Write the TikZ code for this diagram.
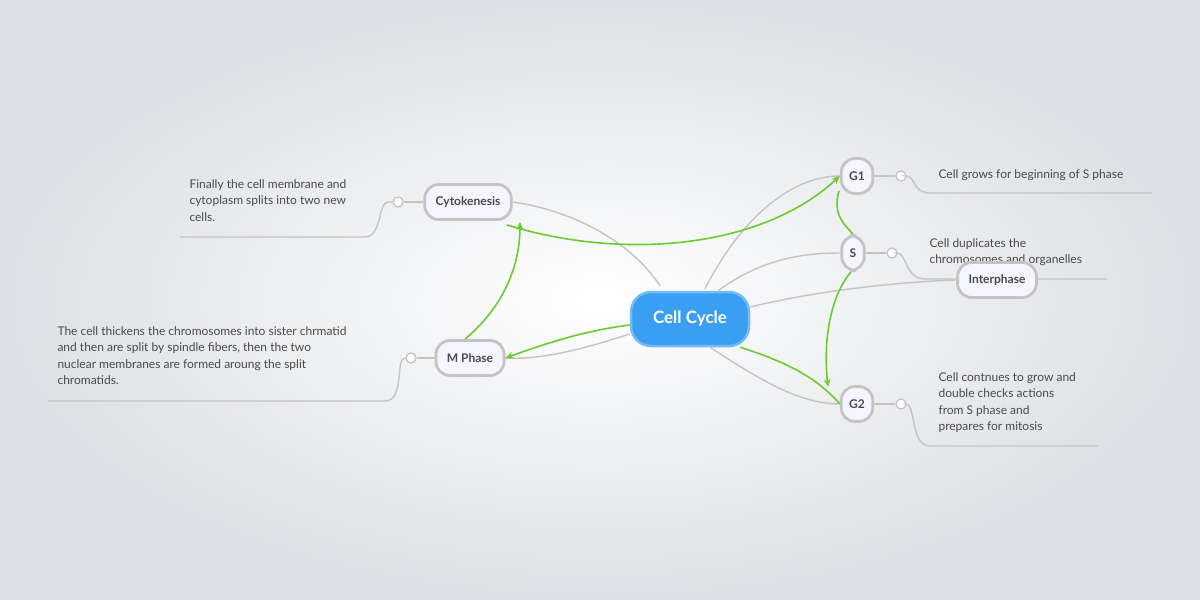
\documentclass[tikz,border=0pt]{standalone}
\usepackage{fontspec}
\setmainfont{Lato}
\usetikzlibrary{arrows.meta}
\definecolor{bg}{HTML}{DDE0E4}
\definecolor{lnk}{HTML}{C4C4C4}
\definecolor{grn}{HTML}{6CCB2E}
\definecolor{txt}{HTML}{4A4A4A}
\definecolor{blu}{HTML}{3A9EF2}
\tikzset{
 topic/.style={draw=lnk,line width=2.8pt,fill=white!96!blue,rounded corners=14pt,minimum height=35pt,font=\bfseries\fontsize{12}{14}\selectfont,text=txt,inner xsep=11pt},
 link/.style={draw=lnk,line width=1.4pt},
 gar/.style={draw=grn,line width=1.6pt,-{Stealth[length=8pt,width=7pt]}},
 gln/.style={draw=grn,line width=1.6pt},
 dot/.style={circle,draw=lnk,line width=1.3pt,fill=white,inner sep=0pt,minimum size=10pt},
 leaf/.style={font=\fontsize{12}{16.5}\selectfont,text=txt,align=left,anchor=west}
}
\begin{document}
\begin{tikzpicture}[x=1pt,y=-1pt]
\useasboundingbox (0,0) rectangle (1200,600);
\shade[inner color=white,outer color=bg] (0,0) rectangle (1200,600);
\node[fill=blu,draw=blu!70!white,line width=2.5pt,rounded corners=20pt,minimum width=118pt,minimum height=54pt,text=white,font=\bfseries\fontsize{17}{19}\selectfont] (cc) at (690,319) {Cell Cycle};
\node[topic] (cyt) at (468,202) {Cytokenesis};
\node[topic] (mp) at (470,358) {M Phase};
\node[topic,inner xsep=8pt] (g1) at (857,176) {G1};
\node[topic,inner xsep=8pt] (s) at (853,253) {S};
\node[topic,inner xsep=8pt] (g2) at (857,404) {G2};
\draw[link] (cc.north) ++(-30,-5) .. controls (630,240) and (570,210) .. (cyt.east);
\draw[link] (cc.west) ++(0,15) .. controls (580,350) and (540,360) .. (mp.east);
\draw[link] (cc.north) ++(15,-2) .. controls (740,220) and (790,176) .. (g1.west);
\draw[link] (cc.north) ++(28,0) .. controls (760,260) and (800,253) .. (s.west);
\draw[link] (cc.south) ++(20,0) .. controls (760,380) and (800,404) .. (g2.west);
\draw[link] (cc.east) ++(0,-12) .. controls (820,290) and (900,282) .. (955,280);
\node[dot] (d1) at (398,202) {};
\draw[link] (cyt.west) -- (d1.east);
\coordinate (e1) at (180,237);
\draw[link] (d1.west) -- (388,202) .. controls (378,202) and (382,237) .. (365,237) -- (e1);
\node[leaf,anchor=north west] (t1) at (186,176) {Finally the cell membrane and\\cytoplasm splits into two new\\cells.};
\node[dot] (d2) at (411,358) {};
\draw[link] (mp.west) -- (d2.east);
\coordinate (e2) at (48,401);
\draw[link] (d2.west) -- (405,358) .. controls (395,358) and (405,401) .. (385,401) -- (e2);
\node[leaf,anchor=north west] (t2) at (54,323) {The cell thickens the chromosomes into sister chrmatid\\and then are split by spindle fibers, then the two\\nuclear membranes are formed aroung the split\\chromatids.};
\node[dot] (d3) at (901,176) {};
\draw[link] (g1.east) -- (d3.west);
\coordinate (e3) at (1152,193);
\draw[link] (d3.east) -- (906,176) .. controls (916,176) and (912,193) .. (930,193) -- (e3);
\node[leaf] (t3) at (935,175) {Cell grows for beginning of S phase};
\node[dot] (d4) at (892,253) {};
\draw[link] (s.east) -- (d4.west);
\coordinate (e4) at (1107,279);
\draw[link] (d4.east) -- (897,253) .. controls (907,253) and (905,279) .. (925,279) -- (e4);
\node[leaf,anchor=north west] (t4) at (926,235) {Cell duplicates the\\chromosomes and organelles};
\node[dot] (d5) at (901,404) {};
\draw[link] (g2.east) -- (d5.west);
\coordinate (e5) at (1098,446);
\draw[link] (d5.east) -- (906,404) .. controls (916,404) and (910,446) .. (930,446) -- (e5);
\node[leaf,anchor=north west] (t5) at (935,369) {Cell contnues to grow and\\double checks actions\\from S phase and\\prepares for mitosis};
\node[topic] (ip) at (997,280) {Interphase};
\draw[gar] (cyt.south east) ++(-6,4) .. controls (620,260) and (760,250) .. (g1.west);
\draw[gar] (mp.north) ++(-5,0) .. controls (500,310) and (520,270) .. (520,222);
\draw[gar] (cc.west) ++(0,6) .. controls (590,330) and (555,340) .. (mp.east);
\draw[gln] (g1.south) ++(-18,-4) .. controls (832,215) and (845,225) .. (s.north);
\draw[gar] (s.south) ++(-2,0) .. controls (835,290) and (822,330) .. (828,387);
\draw[gln] (cc.south east) ++(-10,0) .. controls (780,360) and (815,375) .. (g2.west);
\end{tikzpicture}
\end{document}
